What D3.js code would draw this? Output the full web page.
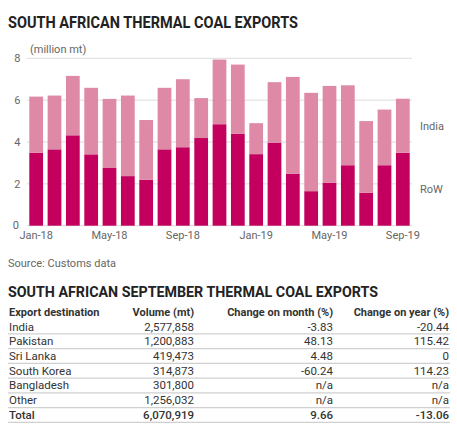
<!DOCTYPE html>
<html><head><meta charset="utf-8">
<script src="https://cdn.jsdelivr.net/npm/d3@7"></script>
<style>
body{margin:0;background:#fff;}
svg{display:block;font-family:Roboto,"Noto Sans",sans-serif;}
</style></head>
<body><svg id="c" width="457" height="425"></svg>
<script>
const months = ["Jan-18","Feb-18","Mar-18","Apr-18","May-18","Jun-18","Jul-18","Aug-18","Sep-18","Oct-18","Nov-18","Dec-18","Jan-19","Feb-19","Mar-19","Apr-19","May-19","Jun-19","Jul-19","Aug-19","Sep-19"];
const rowValues = [3.49,3.65,4.32,3.41,2.78,2.37,2.20,3.65,3.75,4.19,4.85,4.40,3.42,3.97,2.49,1.65,2.06,2.89,1.57,2.89,3.49];
const indiaValues = [2.68,2.57,2.84,3.18,3.28,3.85,2.85,2.94,3.25,1.91,3.09,3.30,1.48,2.89,4.62,4.70,4.62,3.82,3.43,2.66,2.58];
const seriesNames = ["RoW","India"];
const xTickLabels = ["Jan-18","May-18","Sep-18","Jan-19","May-19","Sep-19"];
const yTicks = [0,2,4,6,8];

const tableHeader = ["Export destination","Volume (mt)","Change on month (%)","Change on year (%)"];
const destinations = ["India","Pakistan","Sri Lanka","South Korea","Bangladesh","Other","Total"];
const volumes = ["2,577,858","1,200,883","419,473","314,873","301,800","1,256,032","6,070,919"];
const changeMonth = ["-3.83","48.13","4.48","-60.24","n/a","n/a","9.66"];
const changeYear = ["-20.44","115.42","0","114.23","n/a","n/a","-13.06"];

const colors = {RoW:"#c4005f", India:"#de8aa6"};
const svg = d3.select("#c");

// Title
svg.append("text").attr("x",8).attr("y",27.5).text("SOUTH AFRICAN THERMAL COAL EXPORTS")
  .attr("font-size",16.5).attr("font-weight",700).attr("fill","#222")
  .attr("textLength",290).attr("lengthAdjust","spacingAndGlyphs");

svg.append("text").attr("x",30).attr("y",53).text("(million mt)")
  .attr("font-size",11).attr("fill","#666");

const data = months.map((m,i)=>({month:m, RoW:rowValues[i], India:indiaValues[i]}));
const stacked = d3.stack().keys(seriesNames)(data);

const x = d3.scaleBand().domain(months).range([27,412]).paddingInner(0.25).paddingOuter(0.125);
const y = d3.scaleLinear().domain([0,8]).range([225.7,58.3]);

// grid
svg.append("g").selectAll("line").data(yTicks).join("line")
  .attr("x1",27).attr("x2",412).attr("y1",d=>y(d)).attr("y2",d=>y(d))
  .attr("stroke","#dcdcdc").attr("stroke-width",1);
svg.append("g").selectAll("text").data(yTicks).join("text")
  .attr("x",d=>d===0?19:20.5).attr("y",d=>y(d)+(d===0?3.5:4)).attr("text-anchor","end")
  .attr("font-size",11).attr("fill","#666").text(d=>d);

// bars
svg.append("g").selectAll("g").data(stacked).join("g")
  .attr("fill",d=>colors[d.key])
  .selectAll("rect").data(d=>d).join("rect")
  .attr("x",d=>x(d.data.month)).attr("width",x.bandwidth())
  .attr("y",d=>y(d[1])).attr("height",d=>y(d[0])-y(d[1]));

// x axis labels
const xAxis = d3.axisBottom(x).tickValues(xTickLabels).tickSize(0).tickPadding(6);
const gx = svg.append("g").attr("transform","translate(0,225.7)").call(xAxis);
gx.select(".domain").remove();
gx.selectAll("text").attr("font-size",11).attr("fill","#666").attr("font-family","Roboto,sans-serif");

// series labels
svg.append("g").selectAll("text").data(stacked).join("text")
  .attr("x",420).attr("y",d=>{const p=d[d.length-1];return y((p[0]+p[1])/2)+4;})
  .attr("font-size",11).attr("fill","#666").text(d=>d.key);

svg.append("text").attr("x",8).attr("y",267).text("Source: Customs data")
  .attr("font-size",11).attr("fill","#666");

// Table title
svg.append("text").attr("x",8).attr("y",296.8).text("SOUTH AFRICAN SEPTEMBER THERMAL COAL EXPORTS")
  .attr("font-size",15.5).attr("font-weight",700).attr("fill","#222")
  .attr("textLength",370).attr("lengthAdjust","spacingAndGlyphs");

const colX = [9,194,333,449];
const colAnchor = ["start","end","end","end"];
const rowY = d3.scaleBand().domain(["header"].concat(destinations)).range([304.5,422.3]).padding(0);

svg.append("g").selectAll("text").data(tableHeader).join("text")
  .attr("x",(d,i)=>colX[i]).attr("y",rowY("header")+rowY.bandwidth()/2+4)
  .attr("text-anchor",(d,i)=>colAnchor[i]).attr("font-size",11).attr("font-weight",700)
  .attr("fill","#333").text(d=>d);

const rows = destinations.map((d,i)=>[d,volumes[i],changeMonth[i],changeYear[i]]);
const rg = svg.append("g").selectAll("g").data(rows).join("g")
  .attr("transform",d=>`translate(0,${rowY(d[0])})`);
rg.append("line").attr("x1",8).attr("x2",450).attr("y1",rowY.bandwidth()).attr("y2",rowY.bandwidth())
  .attr("stroke","#d0d0d0").attr("stroke-width",1.3);
rg.selectAll("text").data(d=>d.map(v=>({v,total:d[0]==="Total"}))).join("text")
  .attr("x",(d,i)=>colX[i]).attr("y",rowY.bandwidth()/2+4)
  .attr("text-anchor",(d,i)=>colAnchor[i]).attr("font-size",11.5)
  .attr("font-weight",d=>d.total?500:400)
  .attr("fill","#333").text(d=>d.v);
</script></body></html>
